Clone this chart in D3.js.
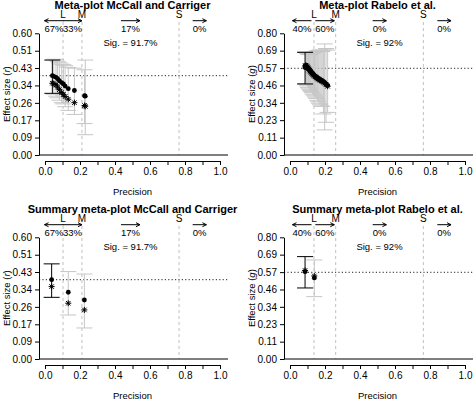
<!DOCTYPE html>
<html>
<head>
<meta charset="utf-8">
<script src="https://cdn.jsdelivr.net/npm/d3@7"></script>
<style>
  body { margin: 0; background: #fff; }
  svg { display: block; font-family: "Liberation Sans", Arial, sans-serif; }
</style>
</head>
<body>
<svg id="chart" width="474" height="402"></svg>
<script>
// ---- datos: McCall and Carriger (cumulative, by precision) ----
const mcPrec   = [0.042, 0.050, 0.063, 0.072, 0.082, 0.095, 0.105, 0.115, 0.133, 0.168, 0.226, 0.230];
const mcCircle = [0.391, 0.388, 0.383, 0.376, 0.366, 0.357, 0.350, 0.340, 0.327, 0.318, 0.292, 0.290];
const mcStar   = [0.354, 0.352, 0.345, 0.335, 0.322, 0.308, 0.298, 0.288, 0.275, 0.258, 0.244, 0.240];
const mcLo     = [0.304, 0.300, 0.290, 0.282, 0.270, 0.258, 0.252, 0.238, 0.220, 0.200, 0.155, 0.100];
const mcHi     = [0.468, 0.472, 0.470, 0.462, 0.455, 0.448, 0.445, 0.440, 0.432, 0.428, 0.420, 0.468];

// summary McCall
const mcSumPrec   = [0.038, 0.133, 0.225];
const mcSumCircle = [0.391, 0.329, 0.291];
const mcSumStar   = [0.357, 0.275, 0.242];
const mcSumLo     = [0.304, 0.217, 0.153];
const mcSumHi     = [0.469, 0.431, 0.419];

// ---- Rabelo et al. ----
const raPrec   = [0.086, 0.090, 0.094, 0.098, 0.102, 0.106, 0.111, 0.116, 0.120, 0.125, 0.130, 0.135, 0.140,
                  0.145, 0.150, 0.156, 0.161, 0.166, 0.172, 0.178, 0.184, 0.191, 0.198, 0.206, 0.215];
const raCircle = [0.575, 0.582, 0.580, 0.576, 0.572, 0.568, 0.562, 0.555, 0.548, 0.540, 0.534, 0.528, 0.522,
                  0.517, 0.512, 0.508, 0.503, 0.499, 0.495, 0.491, 0.487, 0.482, 0.476, 0.468, 0.458];
const raStar   = [0.585, 0.590, 0.586, 0.580, 0.574, 0.566, 0.558, 0.550, 0.543, 0.536, 0.530, 0.524, 0.518,
                  0.514, 0.509, 0.504, 0.500, 0.496, 0.492, 0.488, 0.484, 0.478, 0.472, 0.463, 0.452];
const raLo     = [0.467, 0.470, 0.466, 0.455, 0.445, 0.440, 0.432, 0.425, 0.418, 0.410, 0.400, 0.395, 0.388,
                  0.380, 0.372, 0.360, 0.350, 0.340, 0.330, 0.322, 0.320, 0.270, 0.165, 0.215, 0.280];
const raHi     = [0.675, 0.678, 0.672, 0.668, 0.665, 0.662, 0.660, 0.665, 0.668, 0.670, 0.672, 0.675, 0.677,
                  0.680, 0.682, 0.684, 0.686, 0.688, 0.690, 0.683, 0.680, 0.690, 0.730, 0.700, 0.690];

// summary Rabelo
const raSumPrec   = [0.086, 0.139];
const raSumCircle = [0.574, 0.533];
const raSumStar   = [0.582, 0.546];
const raSumLo     = [0.467, 0.410];
const raSumHi     = [0.673, 0.651];

// cortes L, M, S y etiquetas
const mcCuts = [0.103, 0.211, 0.766];
const raCuts = [0.137, 0.261, 0.762];
const cutLabels = ["L", "M", "S"];
const mcPct = ["67%", "33%", "17%", "0%"];
const raPct = ["40%", "60%", "0%", "0%"];
const mcSig = "Sig. = 91.7%";
const raSig = "Sig. = 92%";
const mcEst = 0.391;
const raEst = 0.57;

const mcYTicks = [0, 0.086, 0.171, 0.257, 0.343, 0.429, 0.514, 0.6];
const raYTicks = [0, 0.114, 0.229, 0.343, 0.457, 0.571, 0.686, 0.8];
const xTicks = [0, 0.1, 0.2, 0.3, 0.4, 0.5, 0.6, 0.7, 0.8, 0.9, 1.0];

function rows(prec, circ, star, lo, hi) {
    return prec.map((p, i) => ({p: p, c: circ[i], s: star[i], lo: lo[i], hi: hi[i], first: i === 0}));
}

const svg = d3.select("#chart");

const panels = [
    {ox: 0, oy: 0, title: "Meta-plot McCall and Carriger", ymax: 0.6, yTicks: mcYTicks, sym: "r",
     cuts: mcCuts, pct: mcPct, sig: mcSig, est: mcEst, data: rows(mcPrec, mcCircle, mcStar, mcLo, mcHi)},
    {ox: 245, oy: 0, title: "Meta-plot Rabelo et al.", ymax: 0.8, yTicks: raYTicks, sym: "g",
     cuts: raCuts, pct: raPct, sig: raSig, est: raEst, data: rows(raPrec, raCircle, raStar, raLo, raHi)},
    {ox: 0, oy: 204, title: "Summary meta-plot McCall and Carriger", ymax: 0.6, yTicks: mcYTicks, sym: "r",
     cuts: mcCuts, pct: mcPct, sig: mcSig, est: mcEst, data: rows(mcSumPrec, mcSumCircle, mcSumStar, mcSumLo, mcSumHi)},
    {ox: 245, oy: 204, title: "Summary meta-plot Rabelo et al.", ymax: 0.8, yTicks: raYTicks, sym: "g",
     cuts: raCuts, pct: raPct, sig: raSig, est: raEst, data: rows(raSumPrec, raSumCircle, raSumStar, raSumLo, raSumHi)}
];

function starPath(r) {
    const a = r * 0.75;
    return `M${-r},0H${r}M0,${-r}V${r}M${-a},${-a}L${a},${a}M${-a},${a}L${a},${-a}`;
}

function drawPanel(p) {
    const g = svg.append("g").attr("transform", `translate(${p.ox},${p.oy})`);
    const x = d3.scaleLinear().domain([0, 1]).range([45, 220]);
    const y = d3.scaleLinear().domain([0, p.ymax]).range([155, 33.3]);
    const gray = "#c6c6c6";

    // titulo
    g.append("text")
        .attr("x", x(0.5)).attr("y", 8.5)
        .attr("text-anchor", "middle")
        .attr("font-size", "11px").attr("font-weight", "bold")
        .text(p.title);

    // lineas verticales L, M, S
    p.cuts.forEach((c, i) => {
        g.append("line")
            .attr("x1", x(c)).attr("x2", x(c))
            .attr("y1", 22).attr("y2", y(0))
            .attr("stroke", "#c0c0c0").attr("stroke-width", 1)
            .attr("stroke-dasharray", "3,3");
        g.append("text")
            .attr("x", x(c)).attr("y", 18.3)
            .attr("text-anchor", "middle").attr("font-size", "10px")
            .text(cutLabels[i]);
    });

    // porcentajes y flechas
    const bounds = [0].concat(p.cuts, [1]);
    p.pct.forEach((t, i) => {
        const cx = x((bounds[i] + bounds[i + 1]) / 2);
        const txt = g.append("text")
            .attr("x", cx).attr("y", 32)
            .attr("text-anchor", "middle").attr("font-size", "9.5px")
            .text(t);
        const w = txt.node().getComputedTextLength();
        const x0 = cx - w / 2, x1 = cx + w / 2, ay = 20.7;
        const tip = i === 0 ? x0 : x1;
        const dir = i === 0 ? 1 : -1;
        g.append("path")
            .attr("d", `M${x0},${ay}H${x1}M${tip + dir * 4},${ay - 2}L${tip},${ay}L${tip + dir * 4},${ay + 2}`)
            .attr("fill", "none").attr("stroke", "#000").attr("stroke-width", 1);
    });

    g.append("text")
        .attr("x", x((p.cuts[1] + p.cuts[2]) / 2)).attr("y", 45.5)
        .attr("text-anchor", "middle").attr("font-size", "9.5px")
        .text(p.sig);

    // borde inferior
    g.append("line")
        .attr("x1", 39).attr("x2", 228).attr("y1", y(0)).attr("y2", y(0))
        .attr("stroke", "#000").attr("stroke-width", 1);

    // estimacion global
    g.append("line")
        .attr("x1", 39).attr("x2", 228).attr("y1", y(p.est)).attr("y2", y(p.est))
        .attr("stroke", "#222").attr("stroke-width", 1).attr("stroke-dasharray", "1.2,2.2");

    // barras de error (gris primero, negro despues)
    const ordered = p.data.slice().reverse();
    ordered.forEach(d => {
        const col = d.first ? "#000" : gray;
        g.append("path")
            .attr("d", `M${x(d.p)},${y(d.lo)}V${y(d.hi)}M${x(d.p) - 8},${y(d.lo)}h16M${x(d.p) - 8},${y(d.hi)}h16`)
            .attr("fill", "none").attr("stroke", col).attr("stroke-width", 1);
    });

    // estrellas
    g.selectAll(".star")
        .data(p.data).enter()
        .append("path")
        .attr("transform", d => `translate(${x(d.p)},${y(d.s)})`)
        .attr("d", starPath(3))
        .attr("fill", "none").attr("stroke", "#000").attr("stroke-width", 1);

    // circulos
    g.selectAll(".dot")
        .data(p.data).enter()
        .append("circle")
        .attr("cx", d => x(d.p)).attr("cy", d => y(d.c))
        .attr("r", 2.4).attr("fill", "#000");

    // ejes
    const yAxis = g.append("g").attr("transform", "translate(39,0)")
        .call(d3.axisLeft(y).tickValues(p.yTicks).tickFormat(d3.format(".2f")).tickSize(4).tickSizeOuter(0));
    const xAxis = g.append("g").attr("transform", "translate(0,161)")
        .call(d3.axisBottom(x).tickValues(xTicks)
            .tickFormat((d, i) => i % 2 === 0 ? d.toFixed(1) : "")
            .tickSize(4).tickSizeOuter(0));
    [yAxis, xAxis].forEach(a => {
        a.attr("font-family", null).attr("font-size", null);
        a.selectAll("text").attr("font-size", "10px").attr("fill", "#000");
        a.selectAll("line,path").attr("stroke", "#000");
    });

    g.append("text")
        .attr("x", x(0.5)).attr("y", 195)
        .attr("text-anchor", "middle").attr("font-size", "9.5px")
        .text("Precision");

    const yl = g.append("text")
        .attr("transform", `translate(9.5,${(y(0) + y(p.ymax)) / 2}) rotate(-90)`)
        .attr("text-anchor", "middle").attr("font-size", "9.5px");
    yl.append("tspan").text("Effect size (");
    yl.append("tspan").attr("font-style", "italic").text(p.sym);
    yl.append("tspan").text(")");
}

panels.forEach(drawPanel);
</script>
</body>
</html>
